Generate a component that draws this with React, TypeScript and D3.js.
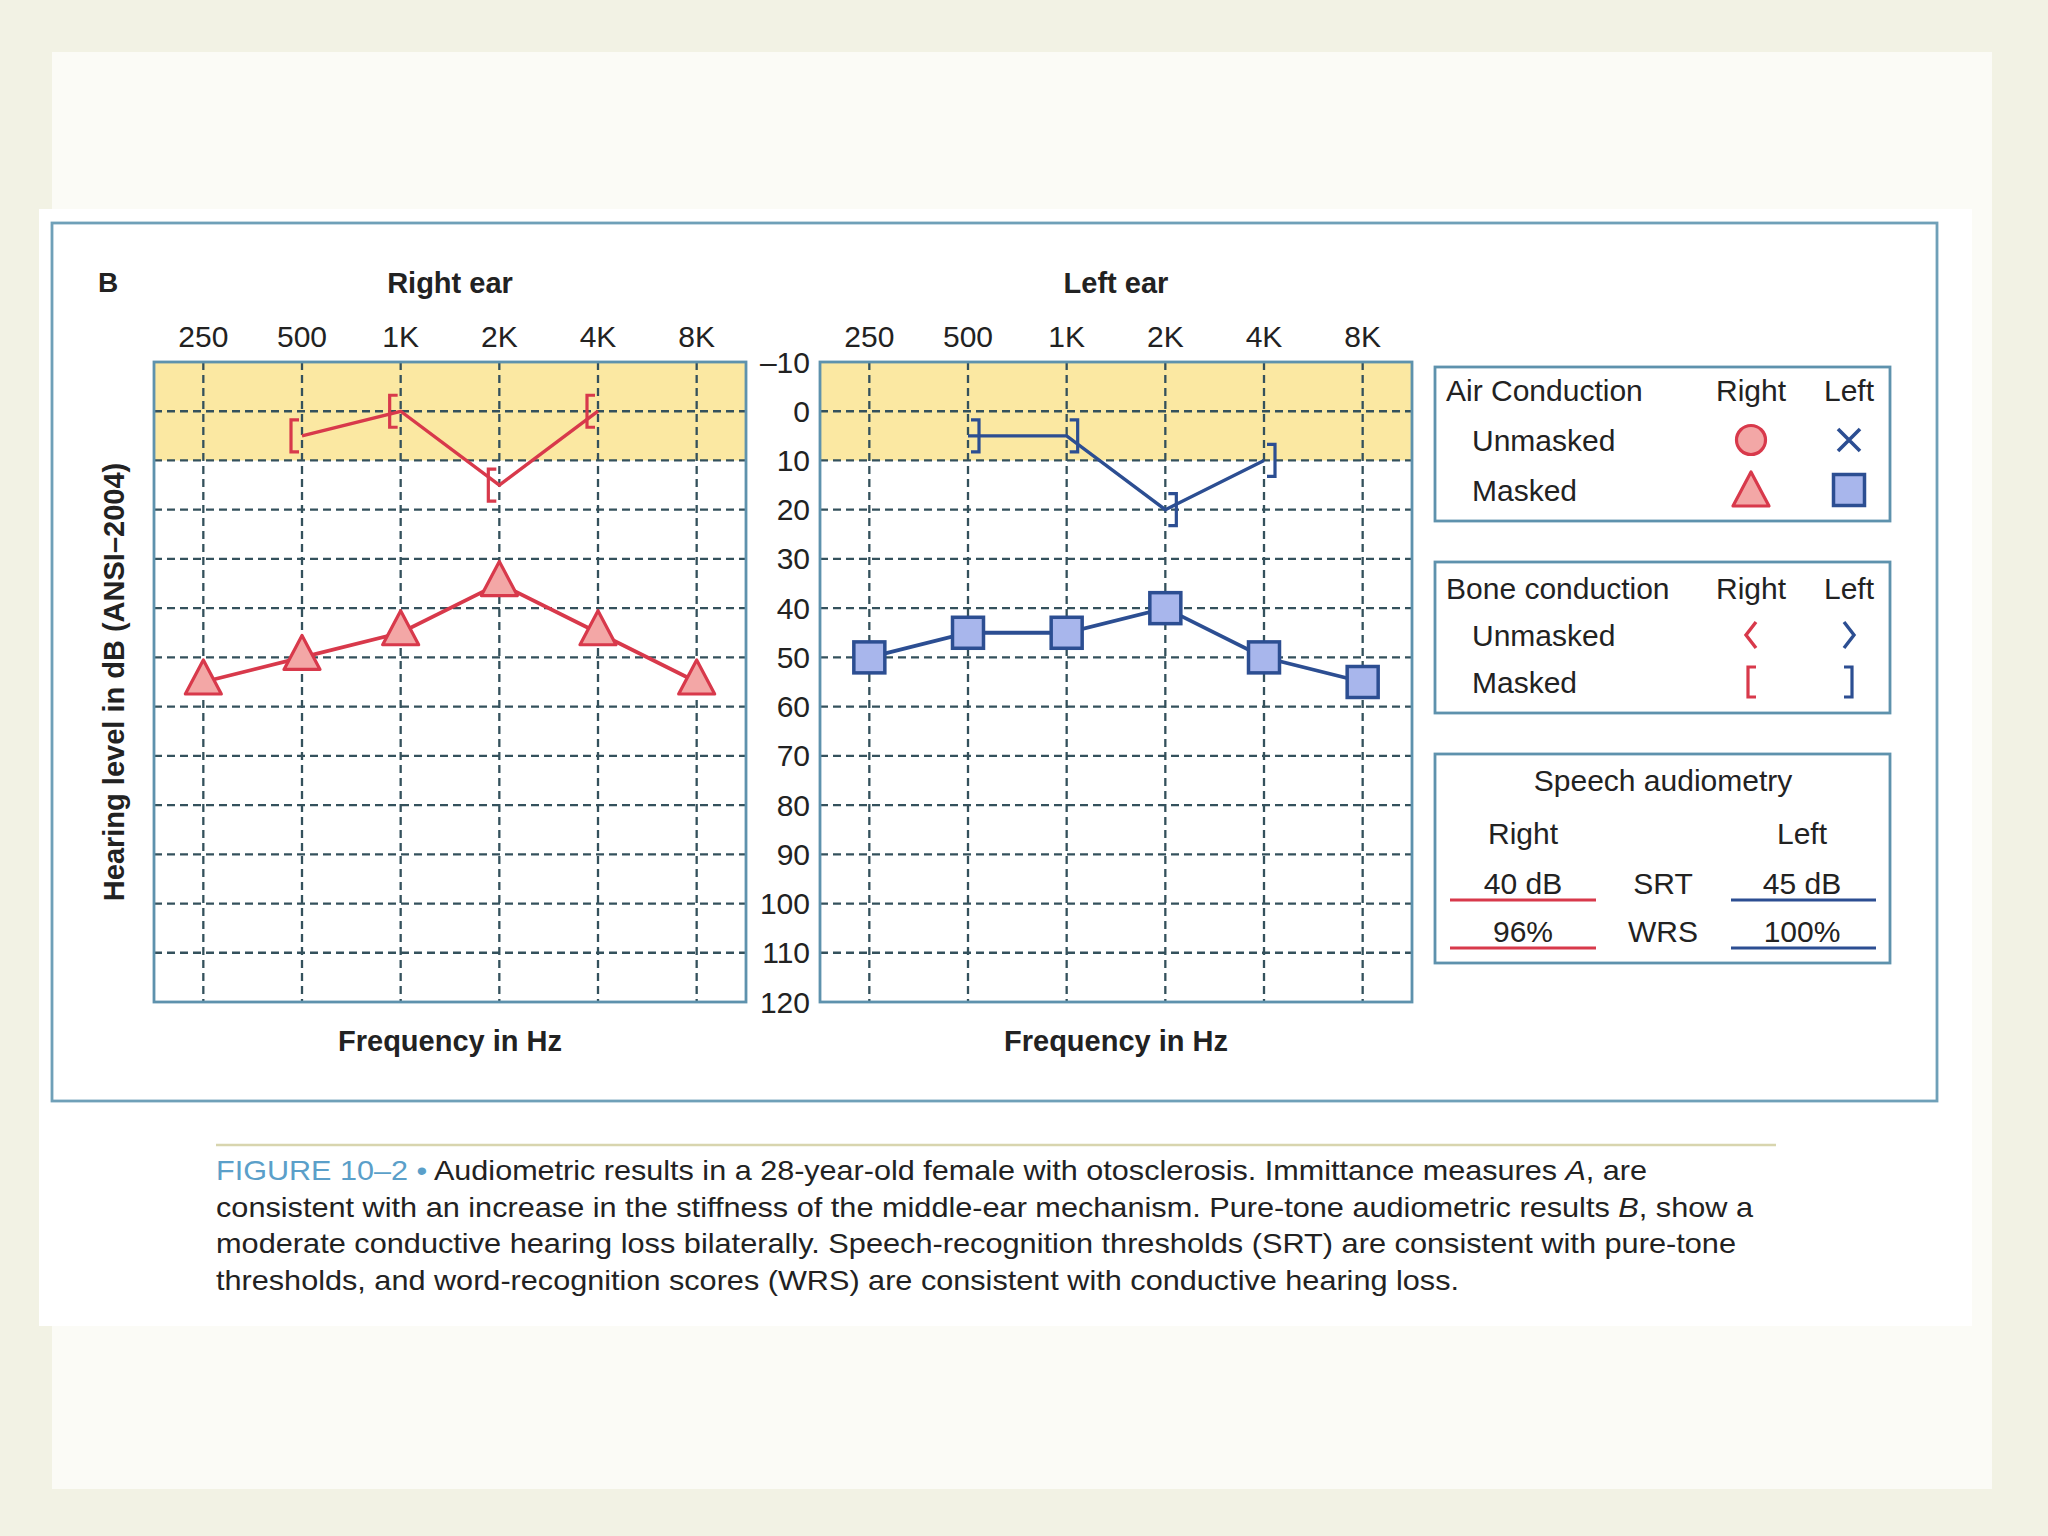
import React from "react";
import * as d3 from "d3";

// ---------- data ----------
const freqLabels = ["250", "500", "1K", "2K", "4K", "8K"];
const yTicks = [-10, 0, 10, 20, 30, 40, 50, 60, 70, 80, 90, 100, 110, 120];

const rightAirMaskedFreqs = ["250", "500", "1K", "2K", "4K", "8K"];
const rightAirMasked = [55, 50, 45, 35, 45, 55];
const rightBoneMaskedFreqs = ["500", "1K", "2K", "4K"];
const rightBoneMasked = [5, 0, 15, 0];

const leftAirMaskedFreqs = ["250", "500", "1K", "2K", "4K", "8K"];
const leftAirMasked = [50, 45, 45, 40, 50, 55];
const leftBoneMaskedFreqs = ["500", "1K", "2K", "4K"];
const leftBoneMasked = [5, 5, 20, 10];

const speechRows = ["SRT", "WRS"];
const speechRight = ["40 dB", "96%"];
const speechLeft = ["45 dB", "100%"];

const captionLines = [
  "consistent with an increase in the stiffness of the middle-ear mechanism. Pure-tone audiometric results ",
  "moderate conductive hearing loss bilaterally. Speech-recognition thresholds (SRT) are consistent with pure-tone",
  "thresholds, and word-recognition scores (WRS) are consistent with conductive hearing loss.",
];

// ---------- style ----------
const RED = "#d8394b";
const RED_FILL = "#f3a7a6";
const BLUE = "#2c4e92";
const BLUE_FILL = "#a8b6ec";
const GRID = "#34515c";
const FRAME = "#5e92ad";
const YELLOW = "#fbe8a2";
const TXT = "#222222";
const FONT = "'Liberation Sans', Arial, Helvetica, sans-serif";

const Y0 = 362;
const Y1 = 1002;
const yScale = d3.scaleLinear().domain([-10, 120]).range([Y0, Y1]);

function Triangle({ x, y }: { x: number; y: number }) {
  return (
    <path
      d={`M${x},${y - 22} L${x + 18},${y + 12} L${x - 18},${y + 12} Z`}
      fill={RED_FILL}
      stroke={RED}
      strokeWidth={3.2}
      strokeLinejoin="round"
    />
  );
}
function Square({ x, y }: { x: number; y: number }) {
  return (
    <rect x={x - 15.5} y={y - 15.5} width={31} height={31} fill={BLUE_FILL} stroke={BLUE} strokeWidth={3.5} />
  );
}
function BracketL({ x, y, h = 16, color = RED }: { x: number; y: number; h?: number; color?: string }) {
  return (
    <path d={`M${x - 3},${y - h} H${x - 11} V${y + h} H${x - 3}`} fill="none" stroke={color} strokeWidth={3.2} />
  );
}
function BracketR({ x, y, h = 16, color = BLUE }: { x: number; y: number; h?: number; color?: string }) {
  return (
    <path d={`M${x + 3},${y - h} H${x + 11} V${y + h} H${x + 3}`} fill="none" stroke={color} strokeWidth={3.2} />
  );
}

function Audiogram({
  x0,
  x1,
  title,
  airFreqs,
  air,
  boneFreqs,
  bone,
  side,
}: {
  x0: number;
  x1: number;
  title: string;
  airFreqs: string[];
  air: number[];
  boneFreqs: string[];
  bone: number[];
  side: "right" | "left";
}) {
  const x = d3.scalePoint<string>().domain(freqLabels).range([x0, x1]).padding(0.5);
  const color = side === "right" ? RED : BLUE;
  const line = d3
    .line<[string, number]>()
    .x((d) => x(d[0]) as number)
    .y((d) => yScale(d[1]));
  const airData: [string, number][] = airFreqs.map((f, i) => [f, air[i]]);
  const boneData: [string, number][] = boneFreqs.map((f, i) => [f, bone[i]]);
  const cx = (x0 + x1) / 2;
  return (
    <g>
      <rect x={x0} y={yScale(-10)} width={x1 - x0} height={yScale(10) - yScale(-10)} fill={YELLOW} />
      {yTicks.slice(1, -1).map((t) => (
        <line key={"h" + t} x1={x0} x2={x1} y1={yScale(t)} y2={yScale(t)} stroke={GRID} strokeWidth={2.3} strokeDasharray="8,5" />
      ))}
      {freqLabels.map((f) => (
        <line key={"v" + f} x1={x(f)} x2={x(f)} y1={Y0} y2={Y1} stroke={GRID} strokeWidth={2.3} strokeDasharray="8,5" />
      ))}
      <rect x={x0} y={Y0} width={x1 - x0} height={Y1 - Y0} fill="none" stroke={FRAME} strokeWidth={2.8} />
      {freqLabels.map((f) => (
        <text key={"t" + f} x={x(f)} y={336} dy="0.35em" textAnchor="middle" fontSize={30} fill={TXT}>
          {f}
        </text>
      ))}
      <text x={cx} y={283} dy="0.35em" textAnchor="middle" fontSize={29} fontWeight="bold" fill={TXT}>
        {title}
      </text>
      <text x={cx} y={1041} dy="0.35em" textAnchor="middle" fontSize={29} fontWeight="bold" fill={TXT}>
        Frequency in Hz
      </text>
      <path d={line(boneData) || ""} fill="none" stroke={color} strokeWidth={3.4} />
      {boneData.map((d, i) =>
        side === "right" ? (
          <BracketL key={"b" + i} x={x(d[0]) as number} y={yScale(d[1])} />
        ) : (
          <BracketR key={"b" + i} x={x(d[0]) as number} y={yScale(d[1])} />
        )
      )}
      <path d={line(airData) || ""} fill="none" stroke={color} strokeWidth={3.8} />
      {airData.map((d, i) =>
        side === "right" ? (
          <Triangle key={"a" + i} x={x(d[0]) as number} y={yScale(d[1])} />
        ) : (
          <Square key={"a" + i} x={x(d[0]) as number} y={yScale(d[1])} />
        )
      )}
    </g>
  );
}

export default function App() {
  const colR = 1751;
  const colL = 1849;
  return (
    <svg
      width={2048}
      height={1536}
      style={{ position: "absolute", left: 0, top: 0, display: "block" }}
      fontFamily={FONT}
    >
      <rect x={0} y={0} width={2048} height={1536} fill="#f2f2e4" />
      <rect x={52} y={52} width={1940} height={1437} fill="#fbfbf6" />
      <rect x={39} y={209} width={1933} height={1117} fill="#ffffff" />
      <rect x={52} y={223} width={1885} height={878} fill="none" stroke="#6fa0b8" strokeWidth={2.8} />

      <text x={108} y={282} dy="0.35em" textAnchor="middle" fontSize={28} fontWeight="bold" fill={TXT}>
        B
      </text>
      <text
        transform={`translate(114,${(Y0 + Y1) / 2}) rotate(-90)`}
        dy="0.35em"
        textAnchor="middle"
        fontSize={29}
        fontWeight="bold"
        fill={TXT}
      >
        Hearing level in dB (ANSI–2004)
      </text>

      <Audiogram
        x0={154}
        x1={746}
        title="Right ear"
        airFreqs={rightAirMaskedFreqs}
        air={rightAirMasked}
        boneFreqs={rightBoneMaskedFreqs}
        bone={rightBoneMasked}
        side="right"
      />
      <Audiogram
        x0={820}
        x1={1412}
        title="Left ear"
        airFreqs={leftAirMaskedFreqs}
        air={leftAirMasked}
        boneFreqs={leftBoneMaskedFreqs}
        bone={leftBoneMasked}
        side="left"
      />
      {yTicks.map((t) => (
        <text key={"y" + t} x={810} y={yScale(t)} dy="0.35em" textAnchor="end" fontSize={30} fill={TXT}>
          {t < 0 ? "–" + Math.abs(t) : String(t)}
        </text>
      ))}

      {/* Air conduction legend */}
      <rect x={1435} y={367} width={455} height={154} fill="#fff" stroke={FRAME} strokeWidth={2.8} />
      <text x={1446} y={390} dy="0.35em" fontSize={30} fill={TXT}>Air Conduction</text>
      <text x={colR} y={390} dy="0.35em" textAnchor="middle" fontSize={30} fill={TXT}>Right</text>
      <text x={colL} y={390} dy="0.35em" textAnchor="middle" fontSize={30} fill={TXT}>Left</text>
      <text x={1472} y={440} dy="0.35em" fontSize={30} fill={TXT}>Unmasked</text>
      <text x={1472} y={490} dy="0.35em" fontSize={30} fill={TXT}>Masked</text>
      <circle cx={colR} cy={440} r={14.5} fill={RED_FILL} stroke={RED} strokeWidth={3.2} />
      <path d={`M${colL - 11},429 L${colL + 11},451 M${colL + 11},429 L${colL - 11},451`} stroke={BLUE} strokeWidth={3.6} />
      <Triangle x={colR} y={494} />
      <Square x={colL} y={490} />

      {/* Bone conduction legend */}
      <rect x={1435} y={562} width={455} height={151} fill="#fff" stroke={FRAME} strokeWidth={2.8} />
      <text x={1446} y={588} dy="0.35em" fontSize={30} fill={TXT}>Bone conduction</text>
      <text x={colR} y={588} dy="0.35em" textAnchor="middle" fontSize={30} fill={TXT}>Right</text>
      <text x={colL} y={588} dy="0.35em" textAnchor="middle" fontSize={30} fill={TXT}>Left</text>
      <text x={1472} y={635} dy="0.35em" fontSize={30} fill={TXT}>Unmasked</text>
      <text x={1472} y={682} dy="0.35em" fontSize={30} fill={TXT}>Masked</text>
      <path d={`M${colR + 5},622 L${colR - 5},635 L${colR + 5},648`} fill="none" stroke={RED} strokeWidth={3.4} />
      <path d={`M${colL - 5},622 L${colL + 5},635 L${colL - 5},648`} fill="none" stroke={BLUE} strokeWidth={3.4} />
      <BracketL x={colR + 8} y={682} h={15} />
      <BracketR x={colL - 8} y={682} h={15} />

      {/* Speech audiometry */}
      <rect x={1435} y={754} width={455} height={209} fill="#fff" stroke={FRAME} strokeWidth={2.8} />
      <text x={1663} y={780} dy="0.35em" textAnchor="middle" fontSize={30} fill={TXT}>Speech audiometry</text>
      <text x={1523} y={833} dy="0.35em" textAnchor="middle" fontSize={30} fill={TXT}>Right</text>
      <text x={1802} y={833} dy="0.35em" textAnchor="middle" fontSize={30} fill={TXT}>Left</text>
      {speechRows.map((r, i) => {
        const yy = 883 + i * 48;
        return (
          <g key={r}>
            <text x={1523} y={yy} dy="0.35em" textAnchor="middle" fontSize={30} fill={TXT}>{speechRight[i]}</text>
            <text x={1663} y={yy} dy="0.35em" textAnchor="middle" fontSize={30} fill={TXT}>{r}</text>
            <text x={1802} y={yy} dy="0.35em" textAnchor="middle" fontSize={30} fill={TXT}>{speechLeft[i]}</text>
            <line x1={1450} x2={1596} y1={yy + 17} y2={yy + 17} stroke={RED} strokeWidth={3.2} />
            <line x1={1731} x2={1876} y1={yy + 17} y2={yy + 17} stroke={BLUE} strokeWidth={3.2} />
          </g>
        );
      })}

      {/* Caption */}
      <line x1={216} x2={1776} y1={1145} y2={1145} stroke="#d8d5ae" strokeWidth={2.5} />
      <text x={216} y={1170} dy="0.35em" fontSize={28} fill={TXT} textLength={1431} lengthAdjust="spacingAndGlyphs">
        <tspan fill="#5b9fc9">FIGURE 10–2 • </tspan>
        Audiometric results in a 28-year-old female with otosclerosis. Immittance measures <tspan fontStyle="italic">A</tspan>, are
      </text>
      <text x={216} y={1207} dy="0.35em" fontSize={28} fill={TXT} textLength={1537} lengthAdjust="spacingAndGlyphs">
        {captionLines[0]}
        <tspan fontStyle="italic">B</tspan>, show a
      </text>
      <text x={216} y={1243} dy="0.35em" fontSize={28} fill={TXT} textLength={1520} lengthAdjust="spacingAndGlyphs">
        {captionLines[1]}
      </text>
      <text x={216} y={1280} dy="0.35em" fontSize={28} fill={TXT} textLength={1243} lengthAdjust="spacingAndGlyphs">
        {captionLines[2]}
      </text>
    </svg>
  );
}
